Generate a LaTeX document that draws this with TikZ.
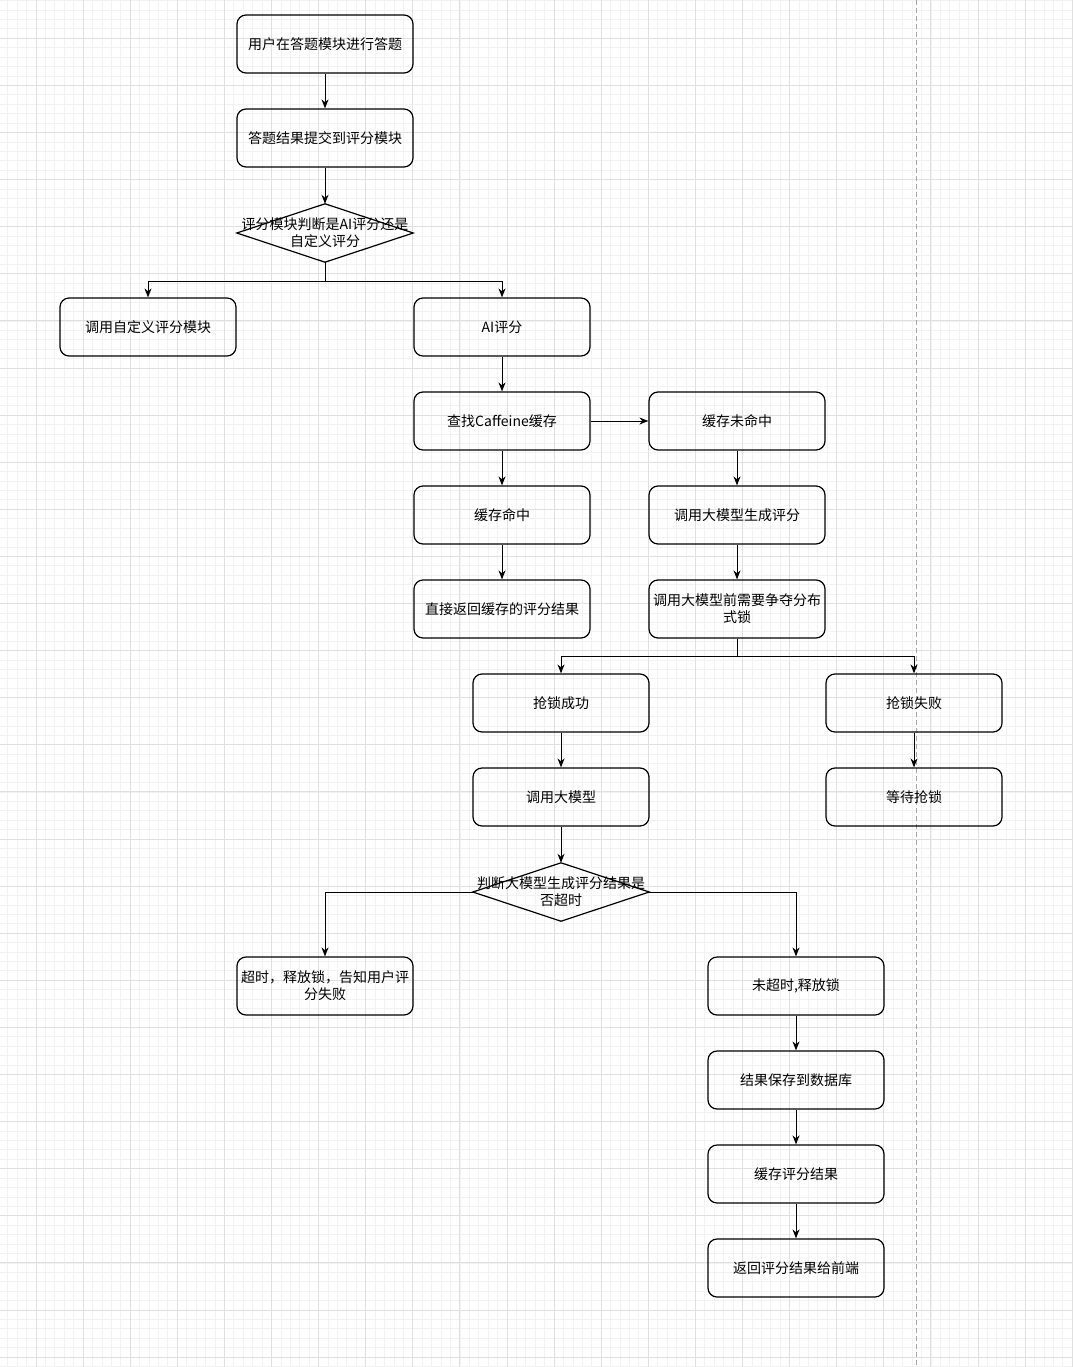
\documentclass[tikz,border=0pt]{standalone}
\usepackage{fontspec}
\setmainfont{Noto Sans CJK SC}
\usetikzlibrary{arrows.meta}

\tikzset{
  stepbox/.style={draw, rounded corners=9pt, line width=1.2pt, minimum width=176pt,
    minimum height=58pt, align=center, inner sep=1pt, font=\fontsize{14}{17}\selectfont},
  decision/.style={minimum width=176pt, minimum height=58pt, align=center,
    inner sep=0pt, font=\fontsize{14}{17}\selectfont},
  flow/.style={line width=1pt, -{Stealth[length=9pt,width=7pt]}},
  minorline/.style={draw=black!5, line width=0.8pt},
  majorline/.style={draw=black!12, line width=0.9pt},
  pagebreak/.style={draw=black!35, line width=1pt, dash pattern=on 5pt off 3pt},
}

\begin{document}
\begin{tikzpicture}[x=1pt, y=-1pt]
            \useasboundingbox[fill=white] (0,0) rectangle (1072,1367);

            % background grid
            \foreach \i in {0,...,114} {
                \draw[minorline] ({-1.68+9.42*\i},0) -- ++(0,1367);
            }
            \foreach \j in {0,...,145} {
                \draw[minorline] (0,{0.62+9.42*\j}) -- ++(1072,0);
            }
            \foreach \i in {0,...,22} {
                \draw[majorline] ({36+47.1*\i},0) -- ++(0,1367);
            }
            \foreach \j in {0,...,28} {
                \draw[majorline] (0,{38.3+47.1*\j}) -- ++(1072,0);
            }
            \draw[pagebreak] (916.5,0) -- (916.5,1367);

            % answering and submitting
            \node (answer) at (325,44) [stepbox] {用户在答题模块进行答题};
            \node (submit) at (325,138) [stepbox] {答题结果提交到评分模块};
            \node (judge) at (325,233) [decision] {评分模块判断是AI评分还是\\自定义评分};
            \draw[line width=1.2pt] (judge.north) -- (judge.east) -- (judge.south) -- (judge.west) -- cycle;

            \node (custom) at (148,327) [stepbox] {调用自定义评分模块};
            \node (ai) at (502,327) [stepbox] {AI评分};

            % cache lookup
            \node (lookup) at (502,421) [stepbox] {查找Caffeine缓存};
            \node (miss) at (737,421) [stepbox] {缓存未命中};
            \node (hit) at (502,515) [stepbox] {缓存命中};
            \node (cached) at (502,609) [stepbox] {直接返回缓存的评分结果};
            \node (llm) at (737,515) [stepbox] {调用大模型生成评分};
            \node (lock) at (737,609) [stepbox] {调用大模型前需要争夺分布\\式锁};

            % lock
            \node (won) at (561,703) [stepbox] {抢锁成功};
            \node (lost) at (914,703) [stepbox] {抢锁失败};
            \node (callllm) at (561,797) [stepbox] {调用大模型};
            \node (wait) at (914,797) [stepbox] {等待抢锁};
            \node (timeout) at (561,892) [decision] {判断大模型生成评分结果是\\否超时};
            \draw[line width=1.2pt] (timeout.north) -- (timeout.east) -- (timeout.south) -- (timeout.west) -- cycle;

            % results
            \node (fail) at (325,986) [stepbox] {超时，释放锁，告知用户评\\分失败};
            \node (release) at (796,986) [stepbox] {未超时,释放锁};
            \node (save) at (796,1080) [stepbox] {结果保存到数据库};
            \node (cache) at (796,1174) [stepbox] {缓存评分结果};
            \node (back) at (796,1268) [stepbox] {返回评分结果给前端};

            \draw[flow] (answer) -- (submit);
            \draw[flow] (submit) -- (judge.north);
            \draw[flow] (judge.south) -- ++(0,19) -| (custom.north);
            \draw[flow] (judge.south) -- ++(0,19) -| (ai.north);
            \draw[flow] (ai) -- (lookup);
            \draw[flow] (lookup) -- (miss);
            \draw[flow] (lookup) -- (hit);
            \draw[flow] (hit) -- (cached);
            \draw[flow] (miss) -- (llm);
            \draw[flow] (llm) -- (lock);
            \draw[flow] (lock.south) -- ++(0,18) -| (won.north);
            \draw[flow] (lock.south) -- ++(0,18) -| (lost.north);
            \draw[flow] (won) -- (callllm);
            \draw[flow] (lost) -- (wait);
            \draw[flow] (callllm) -- (timeout.north);
            \draw[flow] (timeout.west) -| (fail.north);
            \draw[flow] (timeout.east) -| (release.north);
            \draw[flow] (release) -- (save);
            \draw[flow] (save) -- (cache);
            \draw[flow] (cache) -- (back);
        \end{tikzpicture}
\end{document}
